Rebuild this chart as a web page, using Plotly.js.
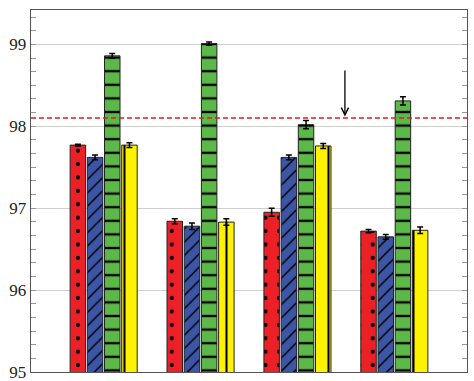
<!DOCTYPE html>
<html>
<head>
<meta charset="utf-8">
<script src="https://cdn.plot.ly/plotly-3.0.1.min.js"></script>
<style>html,body{margin:0;padding:0;background:#fff;}#chart{width:474px;height:381px;}</style>
</head>
<body>
<div id="chart"></div>
<script>
// Data
var groups = ["G1", "G2", "G3", "G4"];
var redVals = [97.77, 96.84, 96.95, 96.72];
var redErr = [0.01, 0.03, 0.05, 0.02];
var blueVals = [97.62, 96.78, 97.62, 96.65];
var blueErr = [0.03, 0.04, 0.03, 0.03];
var greenVals = [98.86, 99.01, 98.02, 98.31];
var greenErr = [0.03, 0.02, 0.05, 0.05];
var yellowVals = [97.77, 96.83, 97.76, 96.73];
var yellowErr = [0.03, 0.04, 0.03, 0.04];
var yTicks = [95, 96, 97, 98, 99];
var thresholdValue = 98.1;
var arrowPos = 2.49;
var arrowTail = 98.7;

function barTrace(name, y, err, color, pattern) {
  return {
    type: "bar", name: name, x: groups, y: y,
    marker: {color: color, line: {color: "#222", width: 1}, pattern: pattern},
    error_y: {type: "data", array: err, visible: true, color: "#000", thickness: 1.5, width: 3}
  };
}

var data = [
  barTrace("red", redVals, redErr, "#ec2127", {shape: ".", size: 13.4, solidity: 0.075, fgcolor: "#000", bgcolor: "#ec2127", fillmode: "replace"}),
  barTrace("blue", blueVals, blueErr, "#3c56a5", {shape: "/", size: 9.4, solidity: 0.16, fgcolor: "#000", bgcolor: "#3c56a5", fillmode: "replace"}),
  barTrace("green", greenVals, greenErr, "#5cb848", {shape: "-", size: 13.6, solidity: 0.17, fgcolor: "#000", bgcolor: "#5cb848", fillmode: "replace"}),
  barTrace("yellow", yellowVals, yellowErr, "#fff200", {shape: "|", size: 17, solidity: 0.12, fgcolor: "#000", bgcolor: "#fff200", fillmode: "replace"})
];

var layout = {
  width: 474, height: 381,
  margin: {l: 31, r: 7, t: 10, b: 9},
  paper_bgcolor: "#fff", plot_bgcolor: "#fff",
  showlegend: false,
  barmode: "group", bargap: 0.29, bargroupgap: 0.1,
  xaxis: {
    type: "category", range: [-0.75, 3.75],
    showticklabels: false, ticks: "", showgrid: false,
    showline: true, linecolor: "#555", linewidth: 1.3, mirror: true, zeroline: false
  },
  yaxis: {
    range: [94.9995, 99.42], tickvals: yTicks, ticktext: yTicks.map(String),
    ticklabeloverflow: "allow",
    ticks: "inside", ticklen: 5, tickcolor: "#999", tickwidth: 1,
    minor: {dtick: 1/6, tick0: 95, ticks: "inside", ticklen: 5, tickcolor: "#999", tickwidth: 1, showgrid: false},
    showgrid: true, gridcolor: "#cfcfcf", gridwidth: 1,
    showline: true, linecolor: "#555", linewidth: 1.3, mirror: "ticks", zeroline: false,
    tickfont: {family: "Liberation Serif, serif", size: 17, color: "#222"}
  },
  shapes: [{
    type: "line", xref: "paper", x0: 0, x1: 1, yref: "y", y0: thresholdValue, y1: thresholdValue,
    line: {color: "#e41a1c", width: 1.5, dash: "5px,3px"}
  }],
  annotations: [{
    x: arrowPos, y: thresholdValue + 0.02, xref: "x", yref: "y",
    ax: arrowPos, ay: arrowTail, axref: "x", ayref: "y",
    text: "", showarrow: true, arrowhead: 5, arrowsize: 1.1, arrowwidth: 1.3, arrowcolor: "#000"
  }]
};

Plotly.newPlot("chart", data, layout, {staticPlot: true, displayModeBar: false});
</script>
</body>
</html>
